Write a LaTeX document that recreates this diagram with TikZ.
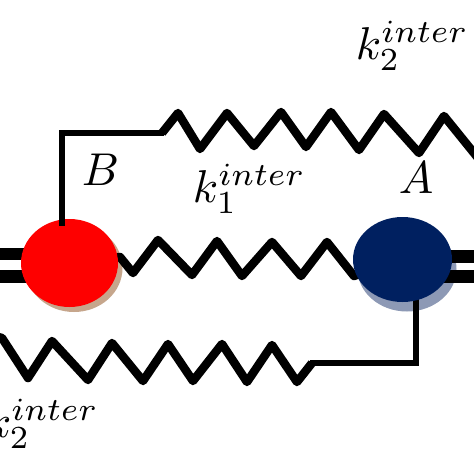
\documentclass[tikz,border=0pt]{standalone}
\usetikzlibrary{shapes.geometric}
\definecolor{redball}{HTML}{FE0000}
\definecolor{redshade}{HTML}{C6A68C}
\definecolor{blueball}{HTML}{002060}
\definecolor{blueshade}{HTML}{8D99B5}
\tikzset{
  ball/.style={ellipse,inner sep=0pt,draw=none},
  spring/.style={draw=black,line width=8.5pt,line join=round},
  lead/.style={draw=black,line width=5.5pt},
  bar/.style={draw=black,line width=12.5pt},
  lab/.style={scale=4.6,inner sep=0pt,anchor=base west,text=black}
}
\begin{document}
\begin{tikzpicture}[x=1pt,y=-1pt]
\useasboundingbox (0,0) rectangle (474,474);
\clip (0,0) rectangle (474,474);
\fill[white] (0,0) rectangle (474,474);
% shadows
\node[ball,fill=redshade,minimum width=97pt,minimum height=88pt] (redS) at (74,268) {};
\node[ball,fill=blueshade,minimum width=99pt,minimum height=85pt] (blueS) at (407,269) {};
% balls
\coordinate (leftA) at (0,254);
\coordinate (leftB) at (0,276.5);
\coordinate (rightA) at (474,256.5);
\coordinate (rightB) at (474,276.5);
\coordinate (topEnd) at (478,158);
\coordinate (botStart) at (-6,336);
\coordinate (redIn) at (30,254);
\coordinate (redIn2) at (30,276.5);
\coordinate (blueIn) at (440,256.5);
\coordinate (blueIn2) at (440,276.5);
\draw[bar] (leftA) -- (redIn);
\draw[bar] (leftB) -- (redIn2);
\draw[bar] (blueIn) -- (rightA);
\draw[bar] (blueIn2) -- (rightB);
\coordinate (redC) at (69.5,263);
\coordinate (blueC) at (402.5,259.5);
% middle spring
\draw[spring] (redC) -- (120,257) -- (133,273) -- (158,240) -- (192,275) -- (217,241) -- (242,276) -- (272,242) -- (301,276) -- (327,242) -- (354,276) -- (blueC);
% bottom spring and lead
\draw[spring] (botStart) -- (2,338) -- (28,378) -- (52,341) -- (88,380) -- (112,343) -- (143,381) -- (168,344) -- (193,381) -- (222,344) -- (247,382) -- (272,345) -- (297,382) -- (312,363);
\coordinate (blueTurn) at (416,363);
\coordinate (botJoin) at (310,363);
\draw[lead,line join=miter] (botJoin) -- (blueTurn) -- (blueC -| blueTurn);
\node[ball,fill=redball,minimum width=97pt,minimum height=88pt] (red) at (redC) {};
\node[ball,fill=blueball,minimum width=99pt,minimum height=85pt] (blue) at (blueC) {};
% top spring and lead
\draw[spring] (162,133) -- (178,113) -- (200,149) -- (227,113) -- (254,146) -- (281,112) -- (306,147) -- (331,112) -- (359,150) -- (384,114) -- (419,153) -- (444,116) -- (topEnd);
\coordinate (leadTop) at (62,133);
\coordinate (leadEnd) at (164,133);
\draw[draw=black,line width=6.5pt,line join=miter] (leadEnd) -- (leadTop) -- (62,226);
% labels
\node[lab] (k2top) at (355,59) {$k_2^{inter}$};
\node[lab] (k1) at (192,202) {$k_1^{inter}$};
\node[lab] (k2bot) at (-15,437) {$k_2^{inter}$};
\node[lab] (B) at (81,185) {$B$};
\node[lab] (A) at (398,193) {$A$};
\end{tikzpicture}
\end{document}
